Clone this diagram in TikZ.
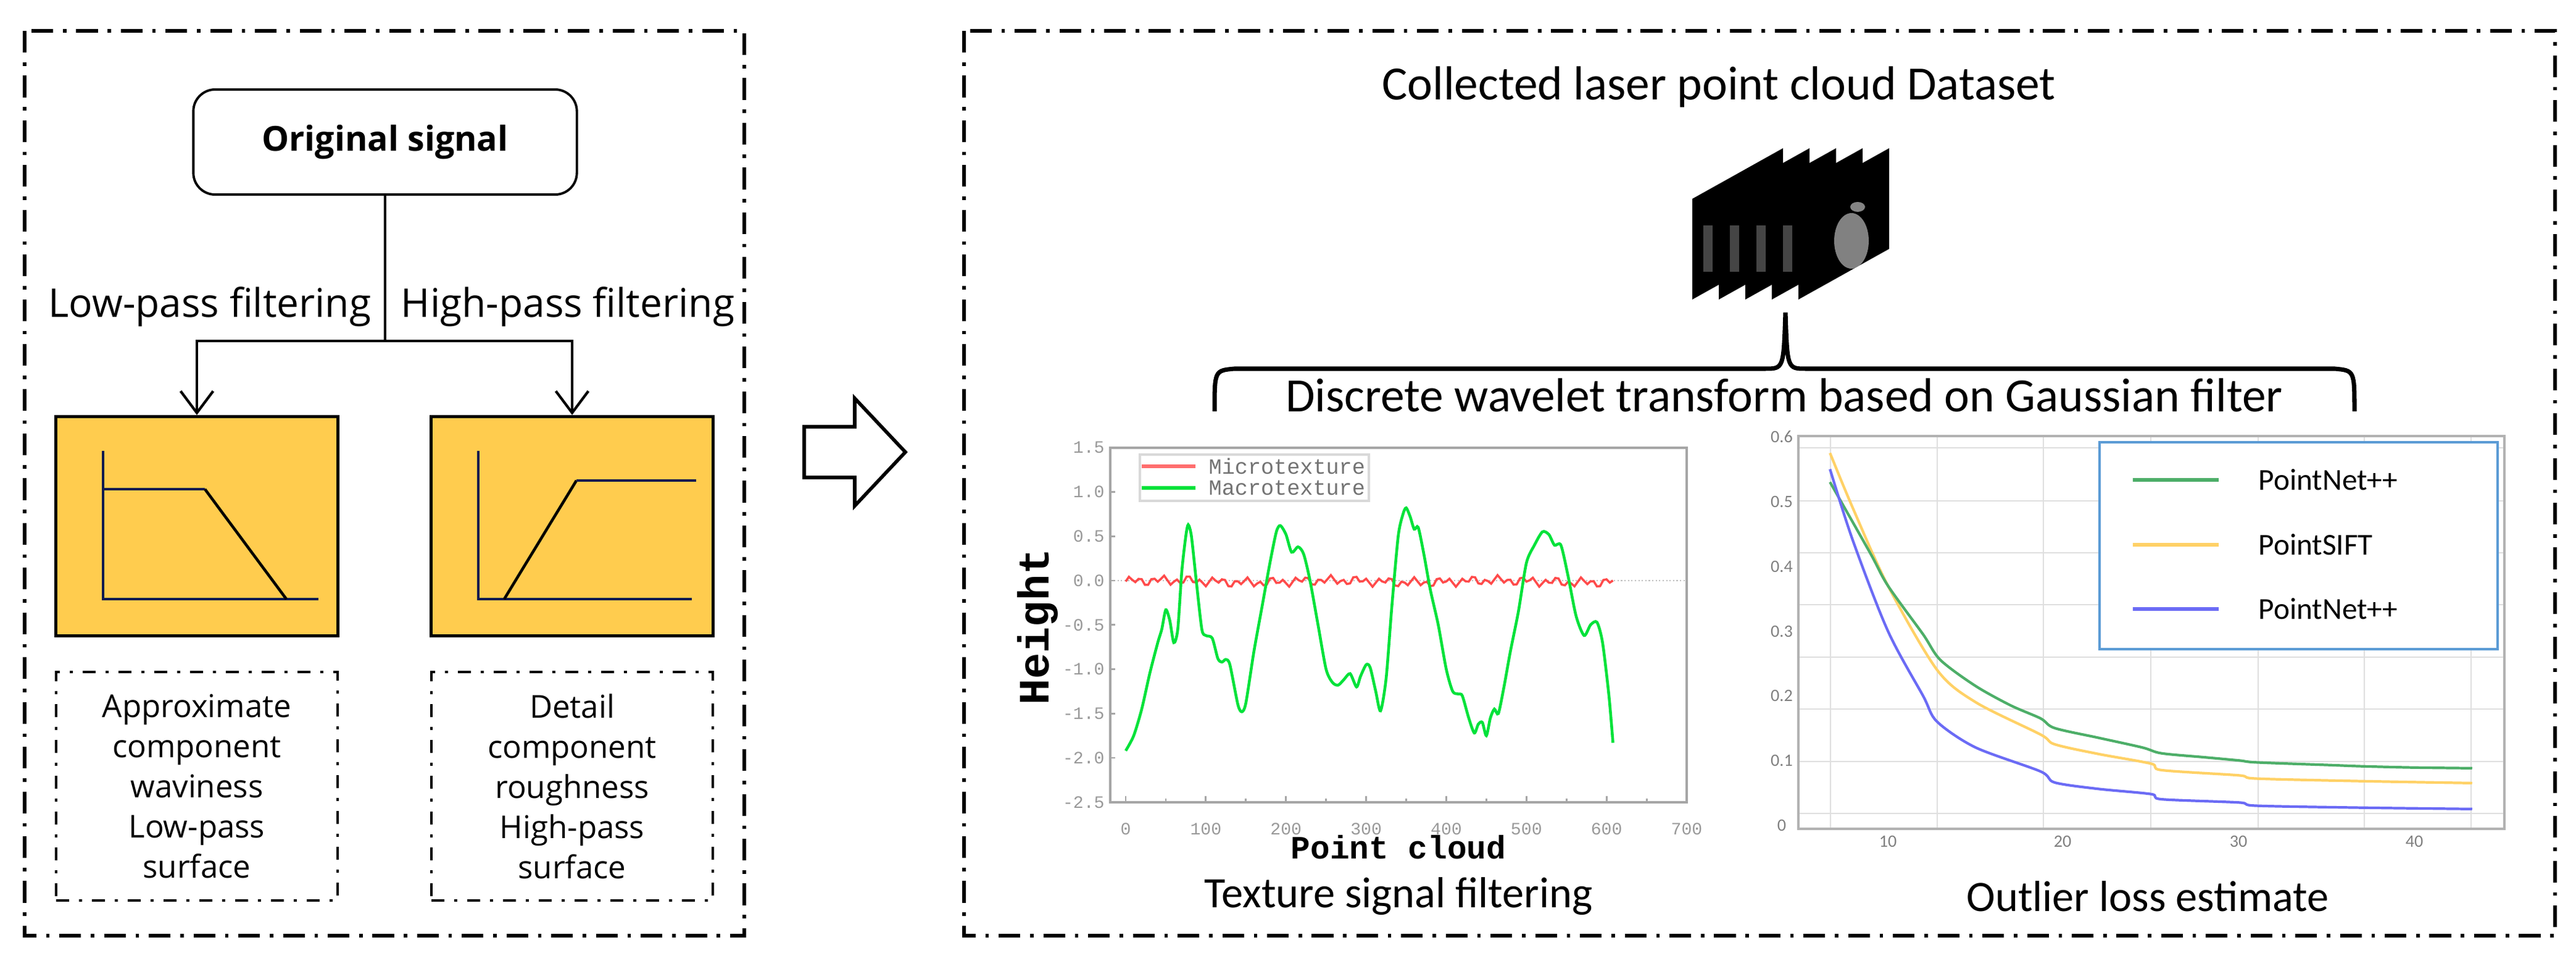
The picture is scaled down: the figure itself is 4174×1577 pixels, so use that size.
\documentclass[tikz,border=0pt]{standalone}
\usepackage{fontspec}
\setmainfont{Open Sans}
\newfontfamily\calf{Carlito}
\newfontfamily\monof{Liberation Mono}
\usetikzlibrary{arrows.meta}
\definecolor{boxyellow}{HTML}{FFCC4E}
\definecolor{navy}{HTML}{0F1A4F}
\definecolor{gmac}{HTML}{00E23A}
\definecolor{rmic}{HTML}{FF4A4A}
\definecolor{cgreen}{HTML}{4DAE68}
\definecolor{cyellow}{HTML}{FFD166}
\definecolor{cblue}{HTML}{6B6BF5}
\definecolor{legblue}{HTML}{5B9BD5}
\tikzset{
  outerbox/.style={line width=1.6pt, dash pattern=on 10pt off 4.5pt on 1.6pt off 4.5pt},
  innerbox/.style={line width=1.3pt, dash pattern=on 6pt off 4.5pt on 1.5pt off 4.5pt, align=center, minimum width=4.56cm, minimum height=3.7cm, inner sep=0pt, font=\fontsize{14.5}{18.5}\selectfont},
  filterbox/.style={draw, line width=1.4pt, fill=boxyellow, minimum width=4.56cm, minimum height=3.55cm, inner sep=0pt},
  flowarrow/.style={line width=1.2pt, -{Straight Barb[length=10pt, width=15pt, line width=1.2pt]}},
  lbl/.style={font=\fontsize{18.2}{21}\selectfont, inner sep=0pt},
  captext/.style={font=\calf\fontsize{22}{26}\selectfont, inner sep=0pt},
  plotcap/.style={font=\calf\fontsize{20}{24}\selectfont, inner sep=0pt},
  ticklbl/.style={font=\monof\fontsize{8}{9}\selectfont, text=gray!80, inner sep=0pt},
  gridl/.style={gray!25, line width=0.8pt}
}
\begin{document}
\begin{tikzpicture}[x=0.01cm, y=-0.01cm]
\useasboundingbox (0,0) rectangle (4174,1577);
% ---------- left panel ----------
\draw[outerbox] (40,50) rectangle (1206,1515);
\node[draw, line width=1.1pt, rounded corners=10pt, minimum width=6.21cm, minimum height=1.7cm, font=\bfseries\fontsize{15.8}{19}\selectfont] (orig) at (624,230) {Original signal};
\coordinate (split) at (624,552);
\node[filterbox] (lp) at (319,852) {};
\node[filterbox] (hp) at (927,852) {};
\draw[line width=1.2pt] (orig.south) -- (split);
\draw[flowarrow] (split) -| (lp.north);
\draw[flowarrow] (split) -| (hp.north);
\node[lbl] (lpl) at (340,497) {Low-pass filtering};
\node[lbl] (hpl) at (920,497) {High-pass filtering};
% filter curves
\draw[navy, line width=1.3pt] (167,730) -- (167,970) -- (516,970);
\draw[navy, line width=1.3pt] (167,792) -- (332,792);
\draw[black, line width=1.3pt] (332,792) -- (464,970);
\draw[navy, line width=1.3pt] (775,730) -- (775,970) -- (1121,970);
\draw[black, line width=1.3pt] (817,970) -- (934,778);
\draw[navy, line width=1.3pt] (934,778) -- (1128,778);
\node[draw, innerbox] (lt) at (319,1273) {Approximate\\component\\waviness\\Low-pass\\surface};
\node[draw, innerbox] (ht) at (927,1273) {Detail\\component\\roughness\\High-pass\\surface};
% ---------- big arrow ----------
\draw[line width=1.6pt, fill=white] (1303,691) -- (1385,691) -- (1385,645) -- (1467,732) -- (1385,819) -- (1385,773) -- (1303,773) -- cycle;
% ---------- right panel ----------
\draw[outerbox] (1562,50) rectangle (4140,1515);
\node[captext] (title) at (2785,141) {Collected laser point cloud Dataset};
% point-cloud stack
\foreach \i in {0,1,2,3,4} {
  \fill[black] (2742+43*\i,322) -- (2889+43*\i,240) -- (2889+43*\i,403) -- (2742+43*\i,485) -- cycle;
}
\foreach \i in {0,1,2,3} {\fill[gray!45, opacity=0.35] (2760+43*\i,365) rectangle (2775+43*\i,440);}
\fill[gray!55, opacity=0.7] (3000,390) ellipse [x radius=28, y radius=45];
\fill[gray!70, opacity=0.8] (3010,335) ellipse [x radius=12, y radius=8];
\coordinate (tip) at (2893,506);
\draw[line width=2pt] (1968,666) .. controls (1968,600) .. (2000,597) -- (2860,597) .. controls (2890,597) .. (tip) .. controls (2896,597) .. (2926,597) -- (3783,597) .. controls (3815,600) .. (3815,666);
\node[captext] (dwt) at (2891,640) {Discrete wavelet transform based on Gaussian filter};
% ---------- left chart ----------
\draw[gray!70, line width=1.2pt] (1799,725) rectangle (2733,1299);
\begin{scope}[shift={(1824,940)}, xscale=1.2986, yscale=-143.5]
  \draw[gray!50, densely dotted, line width=0.6pt] (-19,0) -- (700,0);
  \foreach \v in {0,100,...,700} {\draw[gray!70, line width=0.8pt] (\v,-2.5) -- (\v,-2.43); \node[ticklbl] at (\v,-2.8) {\v};}
  \foreach \v in {50,150,...,650} {\draw[gray!70, line width=0.8pt] (\v,-2.5) -- (\v,-2.46);}
  \foreach \h/\t in {1.5/1.5,1.0/1.0,0.5/0.5,0/0.0,-0.5/-0.5,-1.0/-1.0,-1.5/-1.5,-2.0/-2.0,-2.5/-2.5} {\draw[gray!70, line width=0.8pt] (-19.2,\h) -- (-13,\h); \node[ticklbl, anchor=east] at (-26,\h) {\t};}
  \draw[rmic, line width=1pt] plot[domain=0:152, samples=153] ({4*\x}, {0.035*sin(\x*97)+0.025*sin(\x*41)+0.012*sin(\x*7)-0.01});
  \draw[gmac, line width=1.3pt] plot[smooth, tension=0.45] coordinates {(0,-1.92) (10,-1.75) (20,-1.45) (30,-1.05) (40,-0.7) (45,-0.55) (50,-0.33) (55,-0.45) (60,-0.7) (65,-0.55) (70,0.1) (75,0.5) (78,0.63) (82,0.5) (88,0) (95,-0.55) (100,-0.62) (108,-0.65) (115,-0.88) (120,-0.92) (125,-0.89) (130,-0.95) (140,-1.4) (145,-1.48) (150,-1.38) (160,-0.8) (170,-0.3) (180,0.2) (188,0.55) (193,0.62) (200,0.52) (207,0.32) (215,0.38) (222,0.3) (230,0) (240,-0.5) (250,-1.0) (258,-1.15) (265,-1.18) (272,-1.12) (280,-1.05) (288,-1.2) (293,-1.08) (300,-0.95) (305,-0.98) (312,-1.25) (318,-1.47) (325,-1.1) (332,-0.3) (340,0.5) (346,0.75) (350,0.82) (355,0.72) (360,0.58) (365,0.6) (372,0.3) (380,-0.1) (390,-0.5) (400,-1.0) (408,-1.25) (415,-1.28) (420,-1.3) (428,-1.55) (435,-1.72) (440,-1.62) (445,-1.6) (450,-1.75) (455,-1.55) (460,-1.45) (465,-1.5) (472,-1.2) (480,-0.8) (490,-0.35) (500,0.2) (510,0.4) (520,0.55) (528,0.52) (535,0.4) (543,0.4) (552,0.05) (562,-0.4) (572,-0.62) (580,-0.5) (588,-0.47) (595,-0.7) (603,-1.3) (608,-1.83)};
\end{scope}
\draw[gray!30, line width=1pt, fill=white] (1847,736) rectangle (2218,811);
\draw[rmic!80, line width=1.5pt] (1850,755) -- (1937,755);
\draw[gmac, line width=1.5pt] (1850,790) -- (1937,790);
\node[font=\monof\fontsize{10}{11}\selectfont, text=gray!90!black, anchor=west, inner sep=0pt] (micro) at (1958,755) {Microtexture};
\node[font=\monof\fontsize{10}{11}\selectfont, text=gray!90!black, anchor=west, inner sep=0pt] (macro) at (1958,790) {Macrotexture};
\node[font=\monof\bfseries\fontsize{20}{22}\selectfont, rotate=90, inner sep=0pt] (ylab) at (1681,1015) {Height};
\node[font=\monof\bfseries\fontsize{15}{17}\selectfont, inner sep=0pt] (xlab) at (2266,1372) {Point cloud};
\node[plotcap] (cap1) at (2266,1451) {Texture signal filtering};
% ---------- right chart ----------
\foreach \yy in {725,811,895,979,1064,1148,1233,1317} {\draw[gridl] (2914,\yy) -- (4058,\yy);}
\foreach \xx in {2966,3139,3311,3485,3659,3831,4004} {\draw[gridl] (\xx,706) -- (\xx,1342);}
\draw[gray!60, line width=1pt] (2914,706) rectangle (4058,1342);
\foreach \t/\yy in {0.6/707,0.5/812,0.4/917,0.3/1022,0.2/1126,0.1/1231,0/1336} {\node[font=\calf\fontsize{8}{9}\selectfont, text=gray] at (2887,\yy) {\t};}
\foreach \t/\xx in {10/3059,20/3342,30/3627,40/3912} {\node[font=\calf\fontsize{8}{9}\selectfont, text=gray] at (\xx,1362) {\t};}
\begin{scope}[shift={(2774.7,1336)}, xscale=28.43, yscale=-1048]
  \draw[cyellow, line width=1.2pt] plot[smooth, tension=0.5] coordinates {(6.7,0.575) (8,0.49) (10,0.37) (12.8,0.24) (15,0.19) (18.7,0.14) (19.5,0.125) (22,0.11) (25,0.095) (25.6,0.085) (30,0.077) (31,0.072) (37,0.068) (43.3,0.065)};
  \draw[cgreen, line width=1.2pt] plot[smooth, tension=0.5] coordinates {(6.7,0.53) (9,0.42) (10,0.37) (12,0.295) (13,0.255) (15,0.215) (17,0.185) (18.7,0.165) (19.5,0.15) (22,0.135) (24.5,0.12) (25.6,0.111) (28,0.105) (30,0.1) (31,0.097) (35,0.093) (37,0.091) (40,0.089) (43.3,0.088)};
  \draw[cblue, line width=1.2pt] plot[smooth, tension=0.5] coordinates {(6.7,0.55) (8,0.44) (10,0.3) (12,0.2) (12.8,0.16) (15,0.12) (18.7,0.083) (19.5,0.066) (22,0.056) (25,0.048) (25.6,0.04) (30,0.035) (31,0.03) (37,0.027) (43.3,0.025)};
\end{scope}
\draw[legblue, line width=1pt, fill=white] (3402,716) rectangle (4047,1051);
\draw[cgreen, line width=1.6pt] (3456,777) -- (3595,777);
\draw[cyellow, line width=1.6pt] (3456,882) -- (3595,882);
\draw[cblue, line width=1.6pt] (3456,986) -- (3595,986);
\node[font=\calf\fontsize{14}{16}\selectfont, anchor=west, inner sep=0pt] (l1) at (3659,777) {PointNet++};
\node[font=\calf\fontsize{14}{16}\selectfont, anchor=west, inner sep=0pt] (l2) at (3659,882) {PointSIFT};
\node[font=\calf\fontsize{14}{16}\selectfont, anchor=west, inner sep=0pt] (l3) at (3659,986) {PointNet++};
\node[plotcap] (cap2) at (3480,1451) {Outlier loss estimate};
\end{tikzpicture}
\end{document}
